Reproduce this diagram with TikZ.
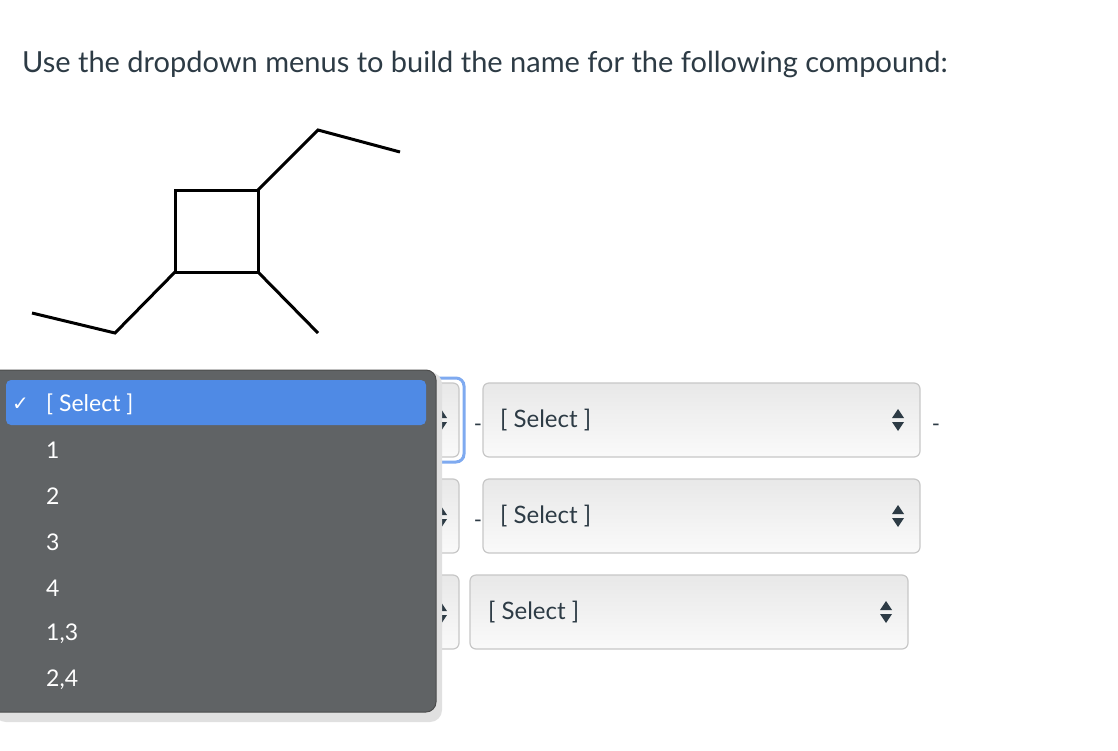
\documentclass[tikz,border=0pt]{standalone}
\usepackage{fontspec}
\setmainfont{Lato}
\newfontfamily\djv{DejaVu Sans}
\begin{document}
\begin{tikzpicture}[x=1pt,y=-1pt,
  bond/.style={line width=3pt,line join=miter},
  selbox/.style={draw=black!22,line width=1.2pt,rounded corners=6pt,top color=black!9,bottom color=black!2},
  seltext/.style={anchor=west,text=dtext,font=\fontsize{24}{24}\selectfont,inner sep=0pt},
  item/.style={anchor=west,text=white,font=\fontsize{23}{23}\selectfont,inner sep=0pt},
  dashlbl/.style={font=\fontsize{22}{22}\selectfont,text=dtext,inner sep=0pt}]
\definecolor{dtext}{HTML}{2D3B45}
\definecolor{menu}{HTML}{606365}
\definecolor{hl}{HTML}{4F8AE5}
\definecolor{focus}{HTML}{7FAAF0}
\newcommand\updown[2]{\fill[dtext] (#1-6,#2-2)--(#1+6,#2-2)--(#1,#2-11)--cycle; \fill[dtext] (#1-6,#2+2)--(#1+6,#2+2)--(#1,#2+11)--cycle;}
\useasboundingbox (0,0) rectangle (1118,750);
\fill[white] (0,0) rectangle (1118,750);
\node[anchor=base west,inner sep=0pt,text=dtext,font=\fontsize{29}{29}\selectfont] (title) at (22,72) {Use the dropdown menus to build the name for the following compound:};
% molecule
\draw[bond] (175,190) rectangle (258,272);
\draw[bond] (258,190)--(318,130)--(400,152);
\draw[bond] (175,272)--(115,333)--(32,313);
\draw[bond] (258,272)--(318,333);
% left boxes (partly hidden)
\draw[focus,line width=3pt,rounded corners=8pt] (380,378) rectangle (464,462);
\path[selbox] (380,383) rectangle (459,457);
\path[selbox] (380,479) rectangle (459,553);
\path[selbox] (380,575) rectangle (459,649);
\updown{441}{420}\updown{441}{517}\updown{441}{613}
% dashes
\node[dashlbl] (d1) at (478,428) {-};
\node[dashlbl] (d2) at (478,524) {-};
\node[dashlbl] (d3) at (936,428) {-};
% right boxes
\path[selbox] (483,383) rectangle (920,457);
\node[seltext] (s1) at (500,420) {[ Select ]};
\updown{898}{420}
\path[selbox] (483,479) rectangle (920,553);
\node[seltext] (s2) at (500,516) {[ Select ]};
\updown{898}{516}
\path[selbox] (470,575) rectangle (908,649);
\node[seltext] (s3) at (488,612) {[ Select ]};
\updown{886}{612}
% menu
\fill[black!12,rounded corners=12pt] (-6,372) rectangle (442,722);
\fill[menu,draw=black!70,line width=1pt,rounded corners=10pt] (-10,370) rectangle (436,712);
\fill[hl,rounded corners=5pt] (6,380) rectangle (426,425);
\node[item,font=\djv\fontsize{20}{20}\selectfont] (chk) at (12,404) {✓};
\node[item] (i0) at (46,404) {[ Select ]};
\node[item] (i1) at (46,450) {1};
\node[item] (i2) at (46,496) {2};
\node[item] (i3) at (46,542) {3};
\node[item] (i4) at (46,588) {4};
\node[item] (i5) at (46,634) {1,3};
\node[item] (i6) at (46,680) {2,4};
\end{tikzpicture}
\end{document}
